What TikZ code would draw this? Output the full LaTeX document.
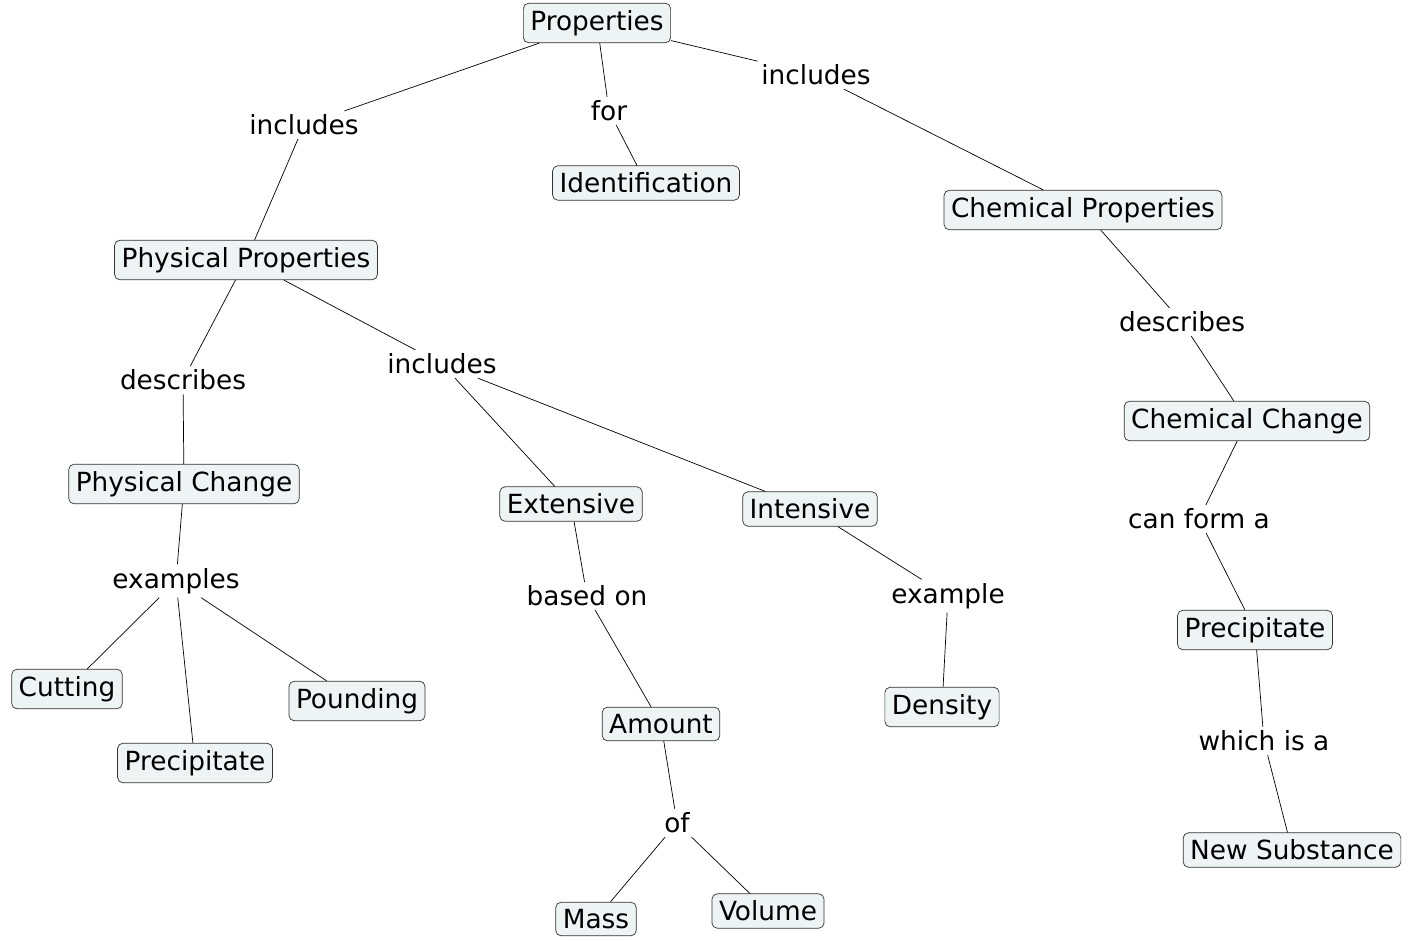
\documentclass[tikz,border=0pt]{standalone}
\usepackage{fontspec}
\setmainfont{DejaVu Sans}
\definecolor{boxfill}{HTML}{EEF4F4}
\definecolor{boxline}{HTML}{333333}

\begin{document}
\begin{tikzpicture}[%
    x = 0.02cm,
    y = -0.02cm,
    thin,
    font = \fontsize{15}{18}\selectfont,
    concept/.style = {%
      draw = boxline,
      fill = boxfill,
      rounded corners = 3pt,
      inner xsep = 4pt,
      inner ysep = 4pt },
    link/.style = {%
      inner sep = 2pt }
  ]
\useasboundingbox (0,0) rectangle (1426,941);

% concepts
\node[concept] (prop) at (597,23) {Properties};
\node[concept] (ident) at (646,183) {Identification};
\node[concept] (chemprop) at (1083,210) {Chemical Properties};
\node[concept] (physprop) at (246,260) {Physical Properties};
\node[concept] (chemchg) at (1247,421) {Chemical Change};
\node[concept] (physchg) at (184,484) {Physical Change};
\node[concept] (ext) at (571,504) {Extensive};
\node[concept] (int) at (810,509) {Intensive};
\node[concept] (precipR) at (1255,630) {Precipitate};
\node[concept] (cut) at (67,689) {Cutting};
\node[concept] (pound) at (357,701) {Pounding};
\node[concept] (precipL) at (195,763) {Precipitate};
\node[concept] (amount) at (661,724) {Amount};
\node[concept] (dens) at (942,707) {Density};
\node[concept] (newsub) at (1292,850) {New Substance};
\node[concept] (mass) at (596,919) {Mass};
\node[concept] (vol) at (768,911) {Volume};

% linking phrases
\node[link] (l1) at (304,125) {includes};
\node[link] (l2) at (609,111) {for};
\node[link] (l3) at (816,75) {includes};
\node[link] (l4) at (1182,322) {describes};
\node[link] (l5) at (183,380) {describes};
\node[link] (l6) at (442,364) {includes};
\node[link] (l7) at (176,581) {examples};
\node[link] (l8) at (587,596) {based on};
\node[link] (l9) at (948,596) {example};
\node[link] (l10) at (1199,519) {can form a};
\node[link] (l11) at (1264,741) {which is a};
\node[link] (l12) at (677,823) {of};

\draw (prop) -- (l1) -- (physprop);
\draw (prop) -- (l2) -- (ident);
\draw (prop) -- (l3) -- (chemprop);
\draw (chemprop) -- (l4) -- (chemchg);
\draw (physprop) -- (l5) -- (physchg);
\draw (physprop) -- (l6) -- (ext);
\draw (l6) -- (int);
\draw (physchg) -- (l7) -- (cut);
\draw (l7) -- (pound);
\draw (l7) -- (precipL);
\draw (ext) -- (l8) -- (amount);
\draw (int) -- (l9) -- (dens);
\draw (chemchg) -- (l10) -- (precipR);
\draw (precipR) -- (l11) -- (newsub);
\draw (amount) -- (l12) -- (mass);
\draw (l12) -- (vol);

\end{tikzpicture}
\end{document}
